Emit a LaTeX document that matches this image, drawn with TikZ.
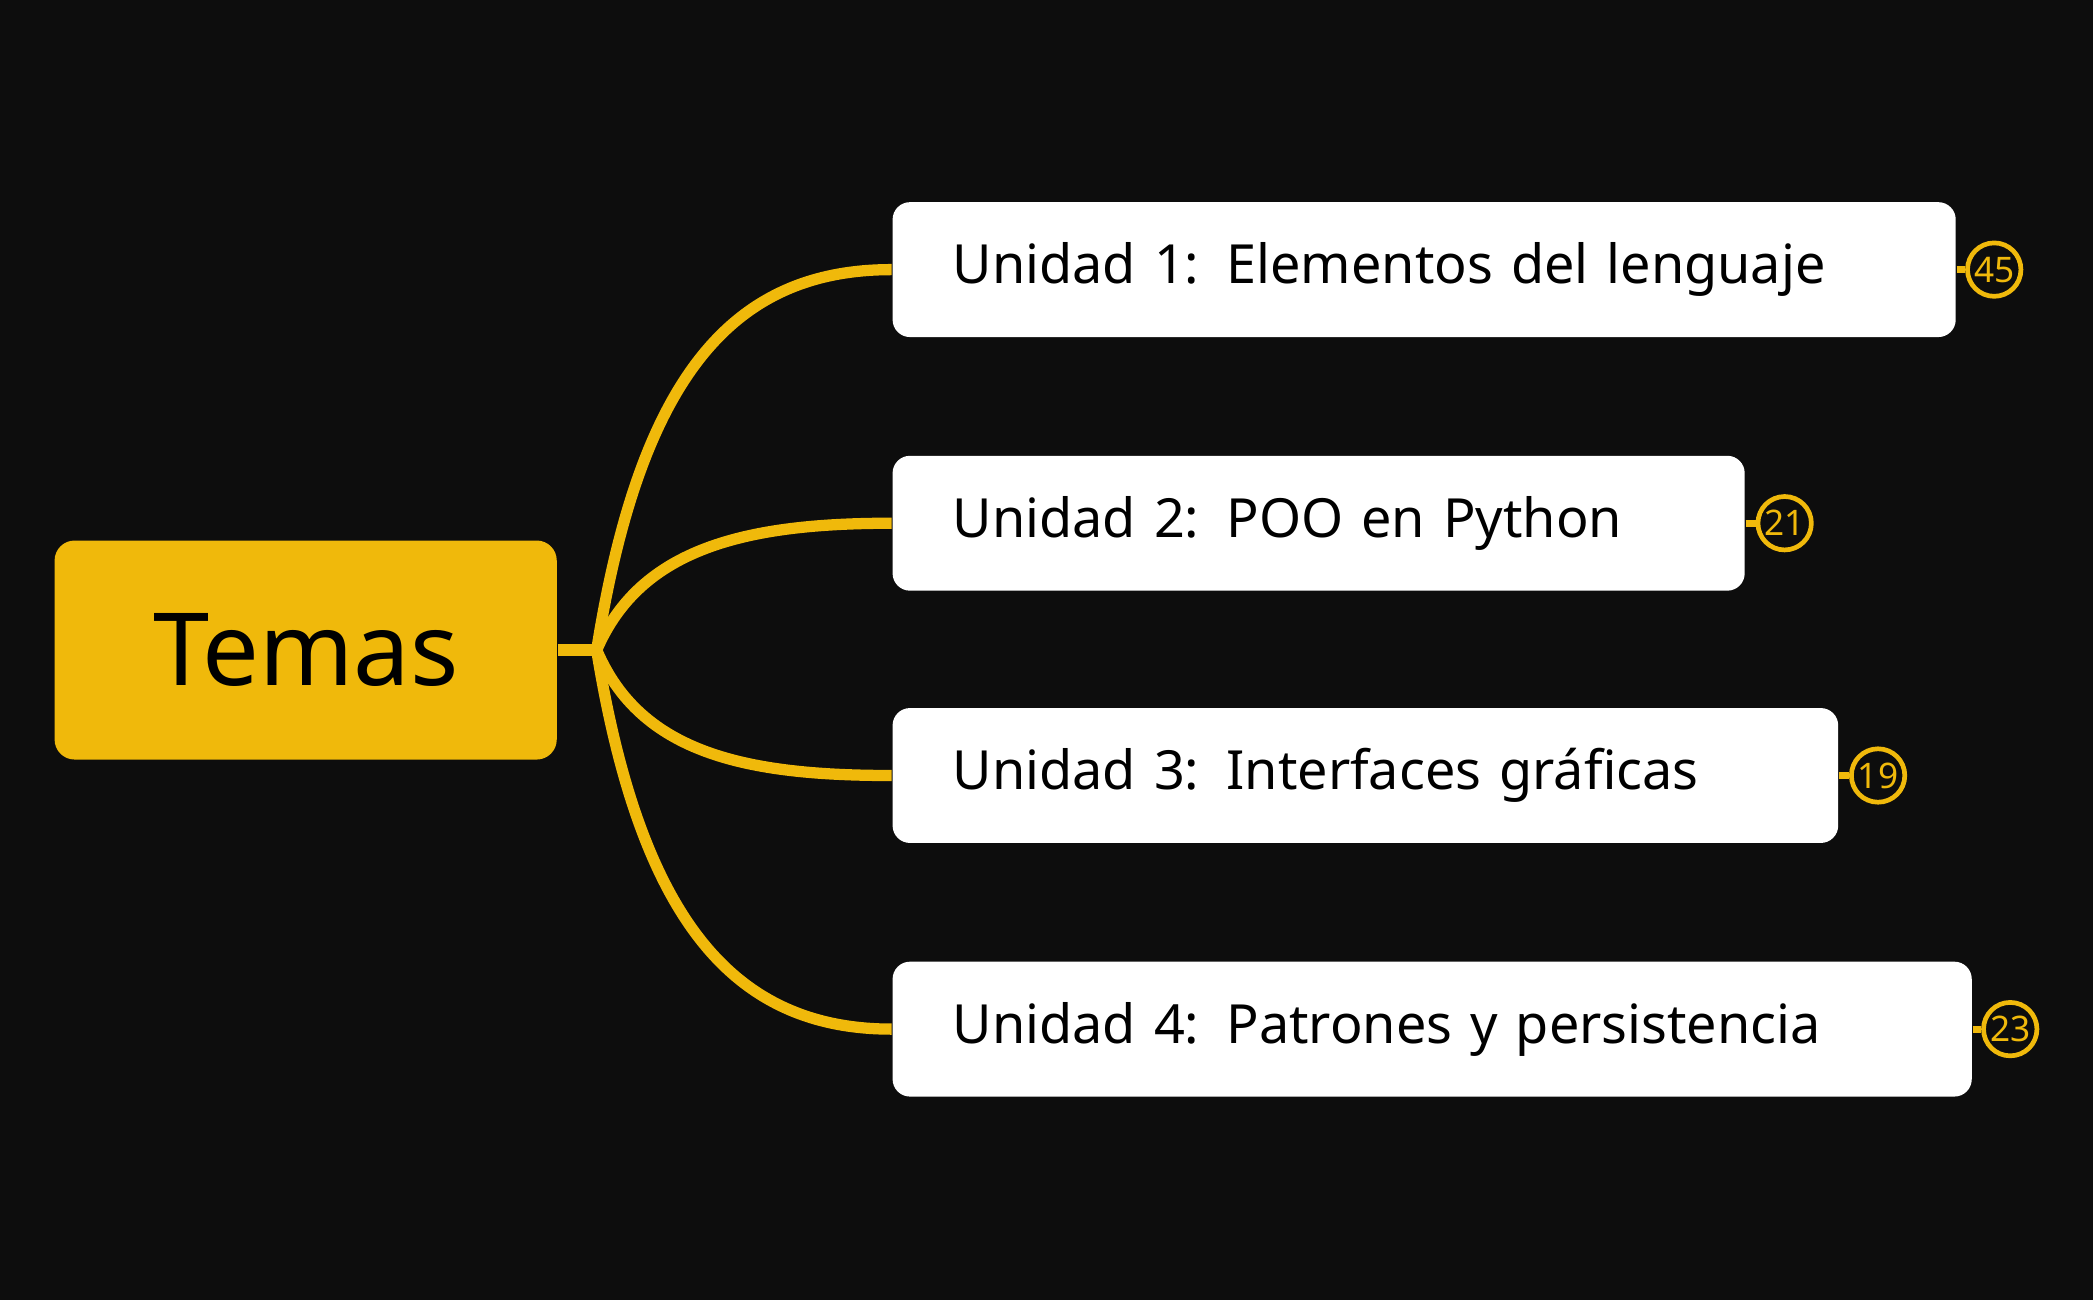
\documentclass[tikz,border=0pt]{standalone}
\usepackage{fontspec}
\setmainfont{Noto Sans}
\definecolor{bg}{HTML}{0D0D0D}
\definecolor{gold}{HTML}{F0B90B}
\begin{document}
\begin{tikzpicture}[x=0.01cm,y=-0.01cm,
  topic/.style={fill=white,rounded corners=0.13cm,anchor=west,minimum height=1.01cm,inner xsep=0.45cm,align=left,font=\fontsize{11.5}{14}\selectfont,text=black},
  link/.style={draw=gold,line width=2.4pt},
  cnt/.style={circle,draw=gold,line width=1pt,fill=bg,text=gold,minimum size=0.4cm,inner sep=0pt,font=\fontsize{7.5}{9}\selectfont}]
\fill[bg] (0,0) rectangle (1568,974);
\useasboundingbox (0,0) rectangle (1568,974);
\node[fill=gold,rounded corners=0.15cm,minimum width=3.76cm,minimum height=1.64cm,font=\fontsize{21.5}{26}\selectfont] (root) at (229,487) {Temas};
\coordinate (hub) at (447,487);
\node[topic,text width=7.06cm] (u1) at (668,202) {Unidad 1: Elementos del lenguaje};
\node[topic,text width=5.48cm] (u2) at (668,392) {Unidad 2: POO en Python};
\node[topic,text width=6.18cm] (u3) at (668,581) {Unidad 3: Interfaces gráficas};
\node[topic,text width=7.18cm] (u4) at (668,771) {Unidad 4: Patrones y persistencia};
\draw[link] (root.east) -- (hub);
\draw[link] (hub) .. controls (480,280) and (550,202) .. (u1.west);
\draw[link] (hub) .. controls (480,410) and (560,392) .. (u2.west);
\draw[link] (hub) .. controls (480,565) and (560,581) .. (u3.west);
\draw[link] (hub) .. controls (480,690) and (550,771) .. (u4.west);
\node[cnt] (c1) at (1494,202) {45};
\node[cnt] (c2) at (1337,392) {21};
\node[cnt] (c3) at (1407,581) {19};
\node[cnt] (c4) at (1506,771) {23};
\draw[gold,line width=1.5pt] (u1.east) -- (c1.west);
\draw[gold,line width=1.5pt] (u2.east) -- (c2.west);
\draw[gold,line width=1.5pt] (u3.east) -- (c3.west);
\draw[gold,line width=1.5pt] (u4.east) -- (c4.west);
\end{tikzpicture}
\end{document}
